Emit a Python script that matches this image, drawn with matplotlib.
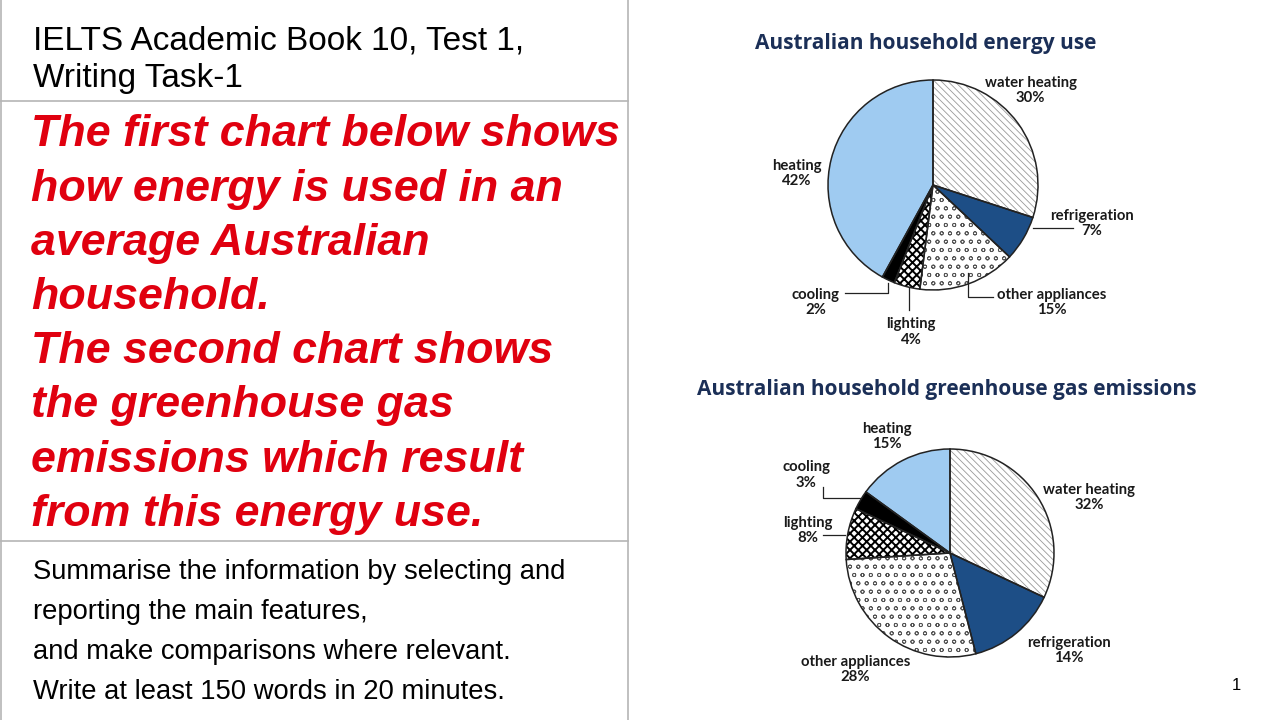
import matplotlib
matplotlib.use("Agg")
import matplotlib.pyplot as plt
from matplotlib.lines import Line2D

# ---- data ----
categories1 = ["water heating", "refrigeration", "other appliances",
               "lighting", "cooling", "heating"]
energy_use = [30, 7, 15, 4, 2, 42]

categories2 = ["water heating", "refrigeration", "other appliances",
               "lighting", "cooling", "heating"]
emissions = [32, 14, 28, 8, 3, 15]

header_lines = ["IELTS Academic Book 10, Test 1,", "Writing Task-1"]
prompt_lines = ["The first chart below shows",
                "how energy is used in an",
                "average Australian",
                "household.",
                "The second chart shows",
                "the greenhouse gas",
                "emissions which result",
                "from this energy use."]
task_lines = ["Summarise the information by selecting and",
              "reporting the main features,",
              "and make comparisons where relevant.",
              "Write at least 150 words in 20 minutes."]

# styles per category (same order as categories)
faces = ["white", "#1d4e86", "white", "white", "black", "#9fcbf1"]
hatches = ["\\\\\\\\\\", None, "oo", "xxxx", None, None]
hatch_cols = ["#9a9a9a", "#1d4e86", "#555555", "black", "black", "#8fbde8"]
hatch_lw = [0.6, 0.6, 0.6, 1.4, 0.6, 0.6]

W, H = 1280, 720
plt.rcParams['hatch.linewidth'] = 0.6
fig = plt.figure(figsize=(12.8, 7.2), dpi=100)
fig.patch.set_facecolor("white")

sans = ["Liberation Sans", "DejaVu Sans"]
lab_font = ["Lato", "DejaVu Sans"]
title_font = ["Open Sans", "DejaVu Sans"]
navy = "#1b2f57"


def fx(px):
    return px / W


def fy(py):
    return 1 - py / H


# ---- left text panel ----
grey = "#b5b5b5"
for (x0, y0, x1, y1) in [(628, 0, 628, 720), (1, 0, 1, 720),
                         (0, 101, 628, 101), (0, 541, 628, 541)]:
    fig.add_artist(Line2D([fx(x0), fx(x1)], [fy(y0), fy(y1)],
                          color=grey, lw=1.2, transform=fig.transFigure))

for i, line in enumerate(header_lines):
    fig.text(fx(33), fy(41 + i * 38), line, family=sans, fontsize=24,
             va="center", ha="left", color="black")

for i, line in enumerate(prompt_lines):
    fig.text(fx(31), fy(135 + i * 54.2), line, family=sans, fontsize=32.2,
             fontweight="bold", fontstyle="italic", color="#e0000f",
             va="center", ha="left")

for i, line in enumerate(task_lines):
    fig.text(fx(33), fy(572 + i * 40), line, family=sans, fontsize=19.7,
             va="center", ha="left", color="black")

fig.text(fx(1236), fy(686), "1", family=sans, fontsize=12, ha="center",
         va="center")


# ---- pies ----
def draw_pie(cx, cy, r, values, title, title_xy, labels, leaders):
    s = 2.0 * r
    ax = fig.add_axes([fx(cx - s), fy(cy + s), 2 * s / W, 2 * s / H])
    ax.axis("off")
    wedges, _ = ax.pie(values, startangle=90, counterclock=False,
                       colors=faces, radius=1,
                       wedgeprops=dict(linewidth=0))
    for w, h, hc, hl in zip(wedges, hatches, hatch_cols, hatch_lw):
        if h:
            w.set_hatch(h)
            w.set_edgecolor(hc)
            if hasattr(w, "set_hatch_linewidth"):
                w.set_hatch_linewidth(hl)
    ax.pie(values, startangle=90, counterclock=False, radius=1,
           colors=["none"] * len(values),
           wedgeprops=dict(linewidth=1.1, edgecolor="#222222", fill=False))
    ax.set_xlim(-2, 2)
    ax.set_ylim(-2, 2)
    for (txt, (lx, ly)), v in zip(labels, values):
        ax.text(lx, ly, "%s\n%d%%" % (txt, v), family=lab_font, fontsize=10.7,
                fontweight="bold", ha="center", va="center",
                linespacing=1.1, color="#1a1a1a")
    for pts in leaders:
        xs = [p[0] for p in pts]
        ys = [p[1] for p in pts]
        ax.plot(xs, ys, color="#222222", lw=0.9)
    fig.text(fx(title_xy[0]), fy(title_xy[1]), title, family=title_font,
             fontsize=15, fontweight="bold", color=navy,
             ha="center", va="center")


lab1 = [(0.93, 0.90), (1.51, -0.37), (1.13, -1.12),
        (-0.21, -1.40), (-1.12, -1.12), (-1.30, 0.11)]
lead1 = [[(0.95, -0.41), (1.33, -0.41)],
         [(0.33, -0.84), (0.33, -1.07), (0.57, -1.07)],
         [(-0.23, -0.97), (-0.23, -1.19)],
         [(-0.84, -1.03), (-0.43, -1.03), (-0.43, -0.93)]]
draw_pie(933, 185, 105, energy_use, "Australian household energy use",
         (926, 43), list(zip(categories1, lab1)), lead1)

lab2 = [(1.34, 0.53), (1.14, -0.94), (-0.91, -1.12),
        (-1.37, 0.22), (-1.38, 0.75), (-0.61, 1.12)]
lead2 = [[(-1.22, 0.63), (-1.22, 0.53), (-0.87, 0.53)],
         [(-1.22, 0.17), (-1.01, 0.17)]]
draw_pie(950, 553, 104, emissions,
         "Australian household greenhouse gas emissions",
         (947, 389), list(zip(categories2, lab2)), lead2)

fig.savefig("out.png", dpi=100)
